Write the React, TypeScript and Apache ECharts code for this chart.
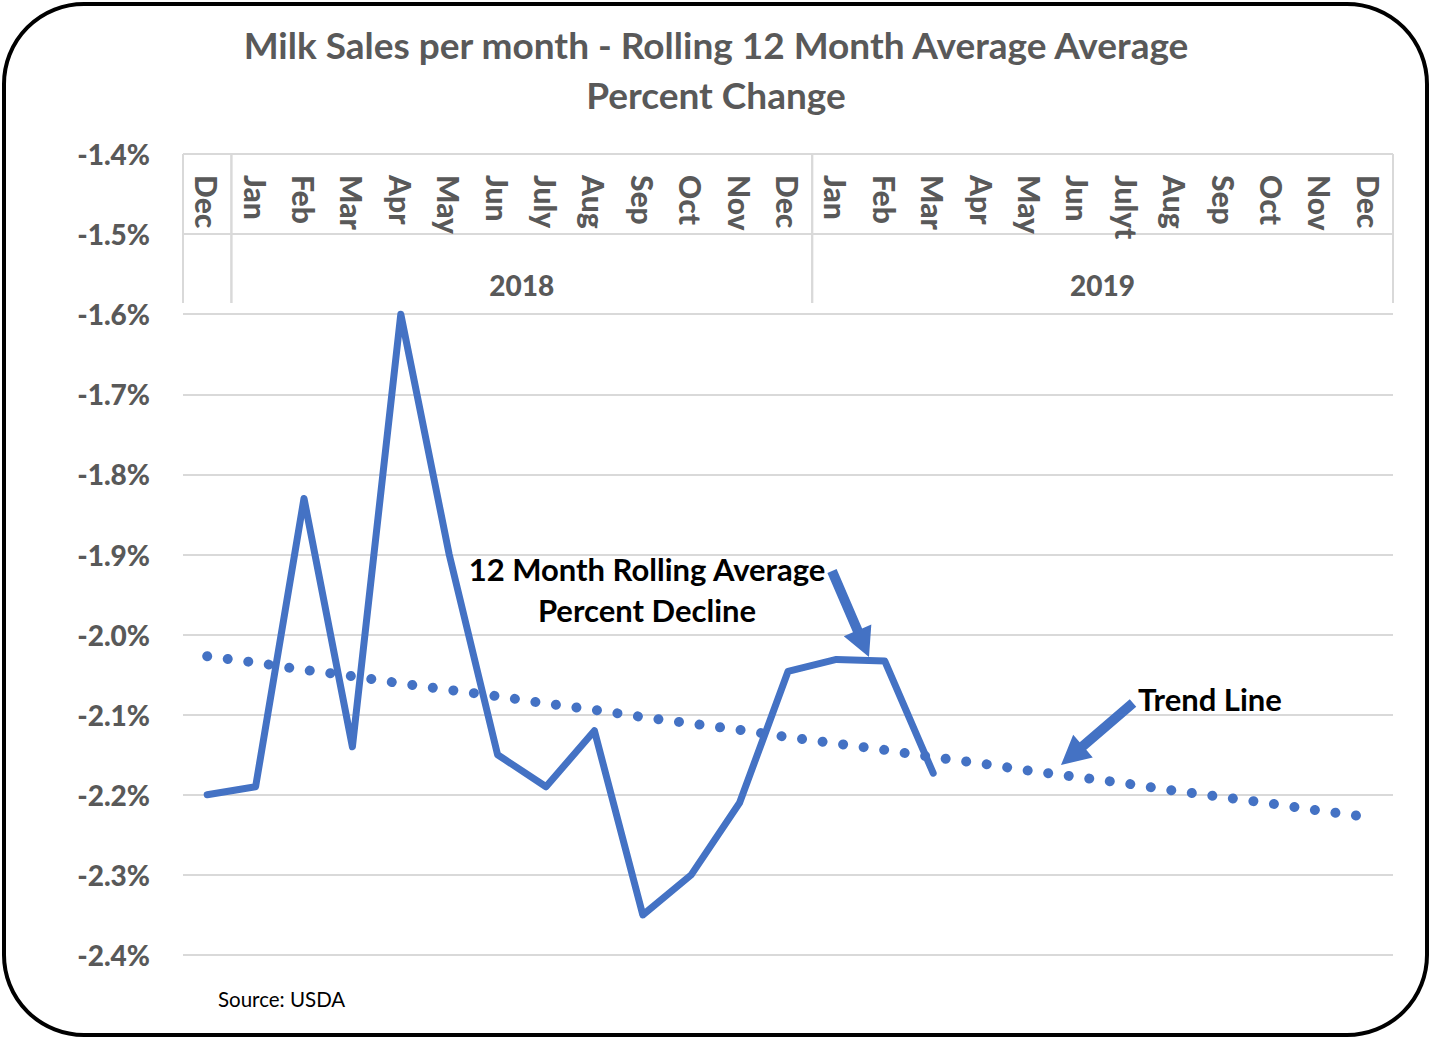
import React, { useEffect, useRef } from "react";
import * as echarts from "echarts";

const categories = ["Dec","Jan","Feb","Mar","Apr","May","Jun","July","Aug","Sep","Oct","Nov","Dec","Jan","Feb","Mar","Apr","May","Jun","Julyt","Aug","Sep","Oct","Nov","Dec"];
const rollingAvg = [-2.20, -2.19, -1.83, -2.14, -1.60, -1.90, -2.15, -2.19, -2.12, -2.35, -2.30, -2.21, -2.046, -2.031, -2.033, -2.173];
const trendLine = [-2.027, -2.035, -2.044, -2.052, -2.061, -2.069, -2.077, -2.086, -2.094, -2.103, -2.111, -2.119, -2.128, -2.136, -2.144, -2.153, -2.161, -2.170, -2.178, -2.186, -2.195, -2.203, -2.211, -2.220, -2.228];
const yearLabels = ["", "2018", "2019"];
const yearStart = [0, 1, 13];
const yearEnd = [0, 12, 24];
const yTicks = { min: -2.4, max: -1.4, interval: 0.1 };

const BLUE = "#4472C4";
const GRAY = "#595959";
const GRID = "#d9d9d9";
const FONT = "Lato";
const HEAVY = 900;

function arrow(x1: number, y1: number, x2: number, y2: number, shaftW: number, headW: number, headL: number) {
  const dx = x2 - x1, dy = y2 - y1;
  const len = Math.sqrt(dx * dx + dy * dy);
  const ux = dx / len, uy = dy / len;
  const nx = -uy, ny = ux;
  const bx = x2 - ux * headL, by = y2 - uy * headL;
  return [
    [x1 + nx * shaftW / 2, y1 + ny * shaftW / 2],
    [bx + nx * shaftW / 2, by + ny * shaftW / 2],
    [bx + nx * headW / 2, by + ny * headW / 2],
    [x2, y2],
    [bx - nx * headW / 2, by - ny * headW / 2],
    [bx - nx * shaftW / 2, by - ny * shaftW / 2],
    [x1 - nx * shaftW / 2, y1 - ny * shaftW / 2],
  ];
}

export default function App() {
  const ref = useRef<HTMLDivElement>(null);
  useEffect(() => {
    document.body.style.margin = "0";
    const chart = echarts.init(ref.current!, null, { renderer: "svg" });
    const headerData = yearLabels.map((_, i) => [yearStart[i], yearEnd[i], yTicks.max]);
    chart.setOption({
      animation: false,
      backgroundColor: "#fff",
      textStyle: { fontFamily: FONT },
      title: {
        text: "Milk Sales per month - Rolling 12 Month Average Average\nPercent Change",
        left: 716,
        top: 19,
        padding: 0,
        textAlign: "center",
        textStyle: { fontFamily: FONT, fontSize: 37, fontWeight: "bold", color: GRAY, lineHeight: 50 },
      },
      grid: { left: 183, right: 38, top: 154, bottom: 84, containLabel: false },
      xAxis: {
        type: "category",
        position: "top",
        data: categories,
        boundaryGap: true,
        axisLine: { show: false },
        axisTick: { show: false },
        axisLabel: {
          inside: true,
          rotate: 90,
          margin: 21,
          interval: 0,
          fontFamily: FONT,
          fontSize: 30,
          fontWeight: HEAVY,
          color: GRAY,
        },
        splitLine: { show: false },
      },
      yAxis: {
        type: "value",
        min: yTicks.min,
        max: yTicks.max,
        interval: yTicks.interval,
        axisLine: { show: false },
        axisTick: { show: false },
        axisLabel: {
          margin: 33,
          fontFamily: FONT,
          fontSize: 28,
          fontWeight: HEAVY,
          color: GRAY,
          formatter: (v: number) => v.toFixed(1) + "%",
        },
        splitLine: { show: true, lineStyle: { color: GRID, width: 2 } },
      },
      series: [
        {
          type: "custom",
          name: "header",
          silent: true,
          clip: false,
          z: 1,
          encode: { x: [0, 1], y: 2 },
          data: headerData,
          renderItem: (params: any, api: any) => {
            const s = api.value(0);
            const e = api.value(1);
            const band = api.size([1, 0])[0];
            const x0 = api.coord([s, yTicks.max])[0] - band / 2;
            const x1 = api.coord([e, yTicks.max])[0] + band / 2;
            const top = params.coordSys.y;
            const label = yearLabels[params.dataIndex];
            return {
              type: "group",
              children: [
                { type: "line", shape: { x1: x0, y1: top, x2: x0, y2: top + 149 }, style: { stroke: GRID, lineWidth: 2 } },
                { type: "line", shape: { x1: x1, y1: top, x2: x1, y2: top + 149 }, style: { stroke: GRID, lineWidth: 2 } },
                {
                  type: "text",
                  style: {
                    text: label,
                    x: (x0 + x1) / 2,
                    y: top + 131,
                    align: "center",
                    verticalAlign: "middle",
                    fontFamily: FONT,
                    fontSize: 28,
                    fontWeight: HEAVY,
                    fill: GRAY,
                  },
                },
              ],
            };
          },
        },
        {
          type: "line",
          name: "Trend Line",
          data: trendLine,
          symbol: "none",
          z: 2,
          lineStyle: { color: BLUE, width: 10, type: [0.01, 20.7], cap: "round" },
        },
        {
          type: "line",
          name: "12 Month Rolling Average",
          data: rollingAvg,
          symbol: "none",
          z: 3,
          lineStyle: { color: BLUE, width: 7, join: "round", cap: "round" },
        },
      ],
      graphic: [
        {
          type: "rect",
          z: 100,
          silent: true,
          shape: { x: 4, y: 4, width: 1423, height: 1031, r: 80 },
          style: { fill: "transparent", stroke: "#000", lineWidth: 4 },
        },
        {
          type: "text",
          z: 100,
          style: {
            text: "12 Month Rolling Average\nPercent Decline",
            x: 647,
            y: 548,
            align: "center",
            verticalAlign: "top",
            fontFamily: FONT,
            fontSize: 31,
            fontWeight: "bold",
            lineHeight: 41,
            fill: "#000",
          },
        },
        {
          type: "text",
          z: 100,
          style: {
            text: "Trend Line",
            x: 1210,
            y: 699,
            align: "center",
            verticalAlign: "middle",
            fontFamily: FONT,
            fontSize: 31,
            fontWeight: "bold",
            fill: "#000",
          },
        },
        {
          type: "text",
          z: 100,
          style: {
            text: "Source: USDA",
            x: 218,
            y: 999,
            align: "left",
            verticalAlign: "middle",
            fontFamily: FONT,
            fontSize: 20.5,
            fill: "#000",
          },
        },
        {
          type: "polygon",
          z: 100,
          shape: { points: arrow(832, 571, 869, 657, 10, 30, 29) },
          style: { fill: BLUE },
        },
        {
          type: "polygon",
          z: 100,
          shape: { points: arrow(1133, 703, 1061, 765, 10, 30, 29) },
          style: { fill: BLUE },
        },
      ],
    });
    return () => chart.dispose();
  }, []);
  return <div ref={ref} style={{ width: 1431, height: 1039 }} />;
}
